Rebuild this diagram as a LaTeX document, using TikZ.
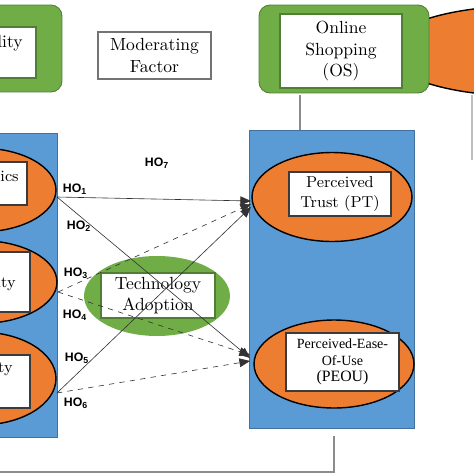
\documentclass[tikz,border=0pt]{standalone}
\usepackage{fontspec}
\usepackage{tikz}
\usetikzlibrary{shapes.geometric,arrows}
\newfontfamily\hofont{Liberation Sans}
\newfontfamily\peoufont{Liberation Serif}
\definecolor{groupblue}{HTML}{5B9BD5}
\definecolor{groupedge}{HTML}{41719C}
\definecolor{factororange}{HTML}{ED7D31}
\definecolor{modgreen}{HTML}{70AD47}
\definecolor{modedge}{HTML}{507E32}
\definecolor{textedge}{HTML}{3B3B3B}

\begin{document}
\begin{tikzpicture}
		[x=0.02cm,y=-0.02cm,
		group/.style= {rectangle,draw=groupedge,fill=groupblue,line width=0.5pt,inner sep=0pt},
		factor/.style= {ellipse,draw=black,fill=factororange,line width=0.8pt,inner sep=0pt},
		moderator/.style= {rectangle,rounded corners=0.22cm,draw=modedge,fill=modgreen,line width=0.5pt,inner sep=0pt},
		adoption/.style= {ellipse,fill=modgreen,inner sep=0pt},
		namebox/.style= {rectangle,draw=textedge,fill=white,line width=0.6pt,inner sep=0pt,align=center,font=\small},
		ho/.style= {font=\hofont\bfseries\scriptsize,inner sep=1pt},
		link/.style= {draw=black!80,line width=0.35pt},
		hypo/.style= {link,-triangle 45},
		faint/.style= {draw=black!45,line width=0.6pt}]

		\useasboundingbox (0,0) rectangle (474,474);
		\clip (0,0) rectangle (474,474);

		% top row
		\node[factor,minimum width=5.48cm,minimum height=1.8cm] (osback) at (523,51) {};
		\node[moderator,minimum width=1.64cm,minimum height=1.74cm] (sq) at (21,48.5) {};
		\node[namebox,minimum width=1.12cm,minimum height=1.02cm,draw=modedge] (sqbox) at (8,52.5) {};
		\node[anchor=east,inner sep=0pt] (sqtext) at (23,43) {ality};
		\node[namebox,draw=black!55,minimum width=2.26cm,minimum height=0.94cm,font=\normalsize] (mod) at (154.5,55.5) {Moderating\\Factor};
		\node[moderator,minimum width=3.4cm,minimum height=1.76cm] (os) at (344,49) {};
		\node[namebox,draw=modedge,minimum width=2.44cm,minimum height=1.48cm,font=\normalsize] (osbox) at (341,51) {Online\\Shopping\\(OS)};

		% left group
		\node[group,minimum width=1.34cm,minimum height=6.08cm] (lgroup) at (23.5,285) {};
		\node[factor,minimum width=3.04cm,minimum height=1.68cm] (f1) at (-20,190) {};
		\node[namebox,minimum width=0.94cm,minimum height=0.86cm] (f1box) at (3.5,183.5) {};
		\node[anchor=east,inner sep=0pt,font=\small] (f1text) at (19,176) {tics};
		\node[factor,minimum width=3.08cm,minimum height=1.66cm] (f2) at (-20,282) {};
		\node[namebox,minimum width=1.0cm,minimum height=1.2cm] (f2box) at (5,282) {};
		\node[anchor=east,inner sep=0pt,font=\small] (f2text) at (16,284) {ity};
		\node[factor,minimum width=3.04cm,minimum height=1.86cm] (f3) at (-20,378.5) {};
		\node[namebox,minimum width=1.0cm,minimum height=1.06cm] (f3box) at (5,381.5) {};
		\node[anchor=east,inner sep=0pt,font=\small] (f3text) at (13,369) {ity};

		% right group
		\node[group,minimum width=3.3cm,minimum height=5.96cm] (rgroup) at (331.5,279) {};
		\node[factor,minimum width=3.2cm,minimum height=1.78cm] (pt) at (332,197) {};
		\node[namebox,minimum width=2.04cm,minimum height=0.88cm] (ptbox) at (340,194) {Perceived\\Trust (PT)};
		\node[factor,minimum width=3.2cm,minimum height=1.76cm] (peou) at (334,364) {};
		\node[namebox,minimum width=2.26cm,minimum height=1.16cm,font=\peoufont\footnotesize] (peoubox) at (342.5,362) {Perceived-Ease-\\Of-Use\\{\small(PEOU)}};

		% moderator in the middle
		\node[adoption,minimum width=2.92cm,minimum height=1.6cm] (ta) at (157,296) {};
		\node[namebox,draw=modedge,minimum width=2.28cm,minimum height=0.9cm,font=\normalsize] (tabox) at (158,295.5) {Technology\\Adoption};

		% hypothesis paths
		\coordinate (s1) at (57,197);
		\coordinate (s2) at (58,292);
		\coordinate (s3) at (57,393);
		\coordinate (t1) at (251,201);
		\coordinate (t2) at (251,204);
		\coordinate (t3) at (251,207);
		\coordinate (u1) at (250,355);
		\coordinate (u2) at (250,358);
		\coordinate (u3) at (250,361);
		\draw[hypo] (s1) -- (t1);
		\draw[hypo] (s1) -- (u2);
		\draw[hypo,dashed] (s2) -- (t2);
		\draw[hypo,dashed] (s2) -- (u1);
		\draw[hypo] (s3) -- (t3);
		\draw[hypo,dashed] (s3) -- (u3);

		\node[ho] (ho7) at (157,163) {HO\textsubscript{7}};
		\node[ho] (ho1) at (75,189) {HO\textsubscript{1}};
		\node[ho] (ho2) at (79,226) {HO\textsubscript{2}};
		\node[ho] (ho3) at (76,273) {HO\textsubscript{3}};
		\node[ho] (ho4) at (75,315) {HO\textsubscript{4}};
		\node[ho] (ho5) at (77,358) {HO\textsubscript{5}};
		\node[ho] (ho6) at (76,403) {HO\textsubscript{6}};

		% grey guide lines
		\coordinate (osdrop) at (300,95);
		\draw[faint] (osdrop) -- (osdrop |- rgroup.north);
		\coordinate (bend) at (334,472);
		\coordinate (bleft) at (0,472);
		\draw[faint] (bend |- 0,436) -- (bend) -- (bleft);
		\coordinate (rtop) at (472,95);
		\coordinate (rbot) at (472,160);
		\draw[faint,draw=black!25] (rtop) -- (rbot);

	\end{tikzpicture}
\end{document}
